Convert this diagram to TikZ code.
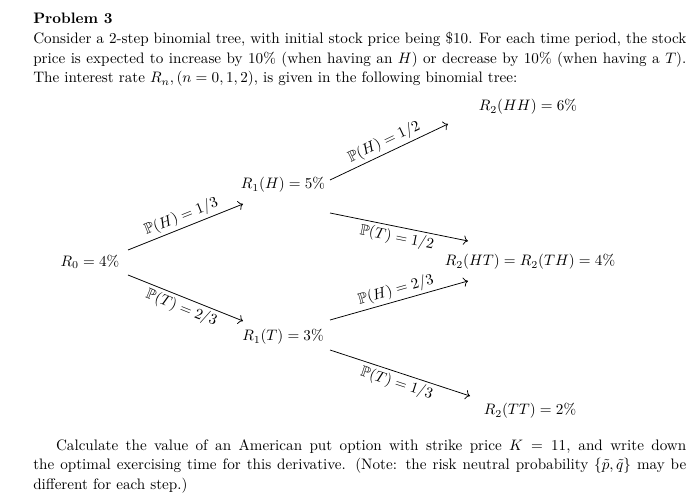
\documentclass[tikz,border=0pt]{standalone}
\usepackage{amssymb}
\usetikzlibrary{arrows.meta}
\begin{document}
\begin{tikzpicture}[x=0.66pt,y=-0.66pt,
  st/.style={inner sep=1pt},
  arr/.style={-{To[length=3pt]},line width=0.5pt},
  lab/.style={sloped,inner sep=2pt}]
\useasboundingbox (0,0) rectangle (691,502);
\node[anchor=north west,inner sep=0,text width=431pt,align=justify,
  execute at begin node={\baselineskip=13pt}] (txt) at (33,13)
 {\textbf{Problem 3}\\
 Consider a 2-step binomial tree, with initial stock price being \$10. For each time period, the stock price is expected to increase by 10\% (when having an $H$) or decrease by 10\% (when having a $T$). The interest rate $R_n, (n=0,1,2)$, is given in the following binomial tree:};
\node[st] (r0) at (90,262) {$R_0=4\%$};
\node[st] (r1h) at (283,185) {$R_1(H)=5\%$};
\node[st] (r1t) at (283,337) {$R_1(T)=3\%$};
\node[st] (hh) at (528,107) {$R_2(HH)=6\%$};
\node[st] (ht) at (530,262) {$R_2(HT)=R_2(TH)=4\%$};
\node[st] (tt) at (530,411) {$R_2(TT)=2\%$};
\coordinate (a1) at (128,250); \coordinate (a2) at (243,204);
\coordinate (b1) at (128,275); \coordinate (b2) at (243,321);
\coordinate (c1) at (330,180); \coordinate (c2) at (448,124);
\coordinate (d1) at (330,213); \coordinate (d2) at (468,241);
\coordinate (e1) at (330,320); \coordinate (e2) at (468,281);
\coordinate (f1) at (330,350); \coordinate (f2) at (470,396);
\draw[arr] (a1) -- node[lab,above]{$\mathbb{P}(H)=1/3$} (a2);
\draw[arr] (b1) -- node[lab,below]{$\mathbb{P}(T)=2/3$} (b2);
\draw[arr] (c1) -- node[lab,above]{$\mathbb{P}(H)=1/2$} (c2);
\draw[arr] (d1) -- node[lab,below]{$\mathbb{P}(T)=1/2$} (d2);
\draw[arr] (e1) -- node[lab,above]{$\mathbb{P}(H)=2/3$} (e2);
\draw[arr] (f1) -- node[lab,below]{$\mathbb{P}(T)=1/3$} (f2);
\node[anchor=north west,inner sep=0,text width=431pt,align=justify,
  execute at begin node={\baselineskip=13pt}] (txt2) at (33,439)
 {\hspace*{15pt}Calculate the value of an American put option with strike price $K=11$, and write down\linebreak the optimal exercising time for this derivative. (Note: the risk neutral probability $\{\tilde p,\tilde q\}$ may be\linebreak different for each step.)};
\end{tikzpicture}
\end{document}
